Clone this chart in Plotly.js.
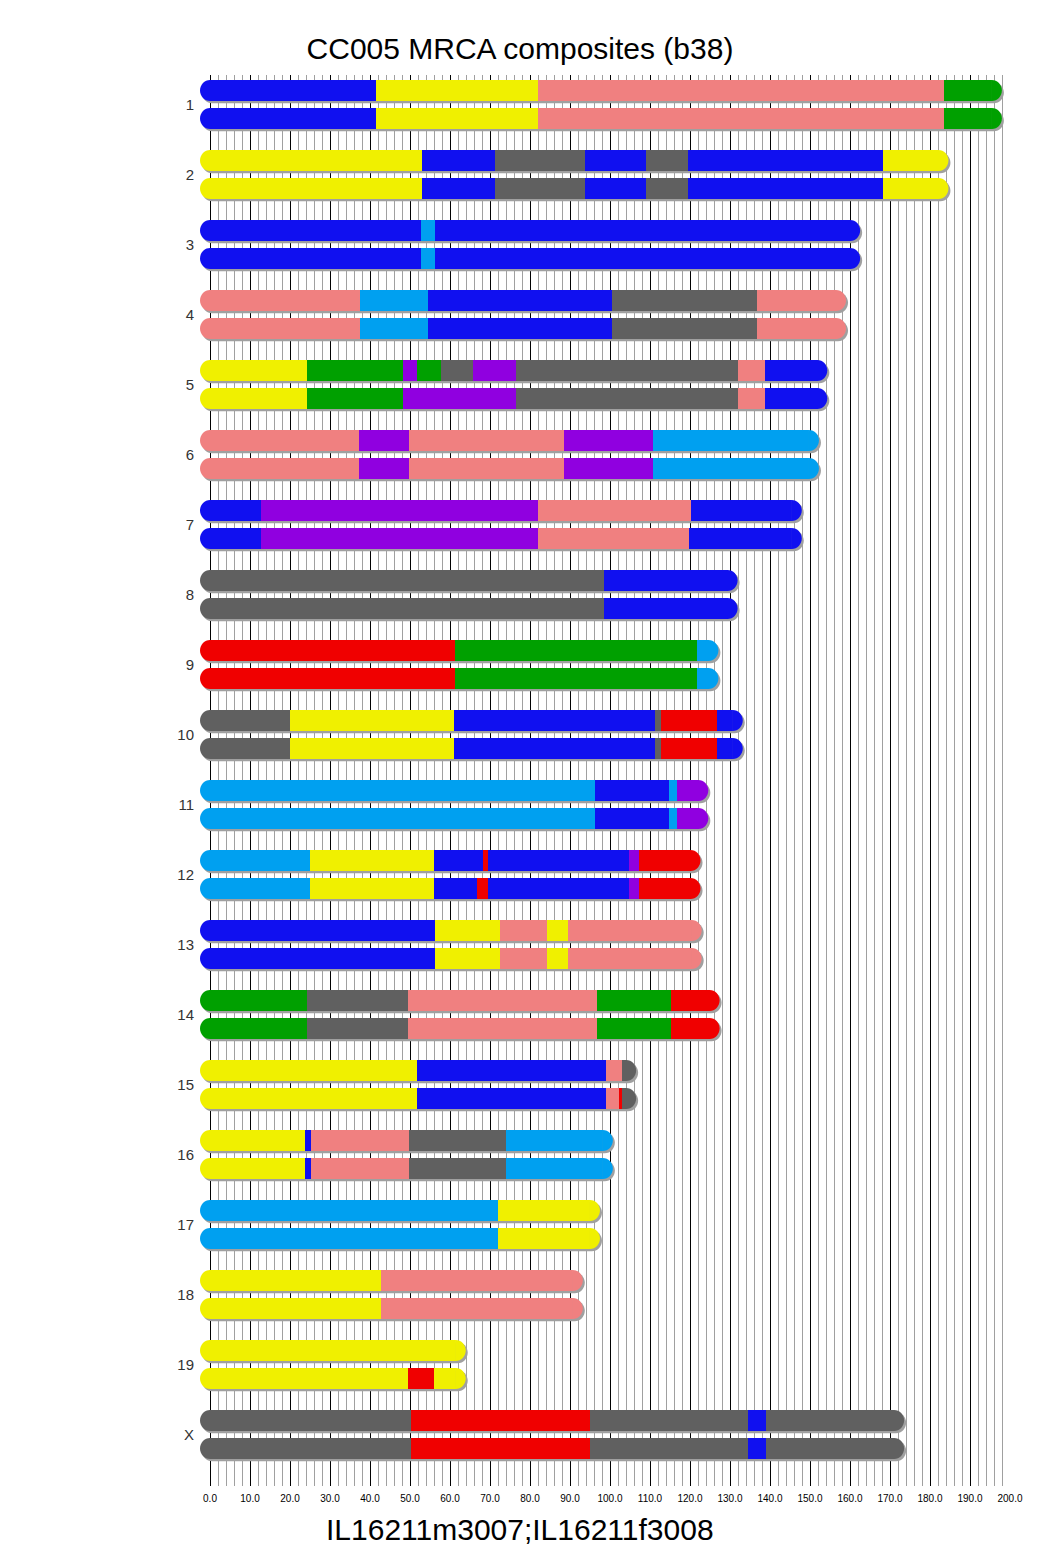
<!DOCTYPE html>
<html>
<head>
<meta charset="utf-8">
<script src="https://cdn.plot.ly/plotly-3.0.1.min.js"></script>
<style>
  html, body { margin: 0; padding: 0; background: #ffffff; }
  #chart { width: 1040px; height: 1560px; }
</style>
</head>
<body>
<div id="chart"></div>
<script>
// Chromosomes (GRCm38 lengths, Mb)
const chromNames = ['1','2','3','4','5','6','7','8','9','10','11','12','13','14','15','16','17','18','19','X'];
const chromLengths = [195.47, 182.11, 160.04, 156.51, 151.83, 149.74, 145.44, 129.40, 124.60, 130.69,
                      122.08, 120.13, 120.42, 124.90, 104.04, 98.21, 94.99, 90.70, 61.43, 171.03];

// Founder codes: A=A/J, B=C57BL/6J, C=129S1/SvImJ, D=NOD/ShiLtJ,
//                E=NZO/HlLtJ, F=CAST/EiJ, G=PWK/PhJ, H=WSB/EiJ
const founderCodes = ['A','B','C','D','E','F','G','H'];

// Upper homolog (IL16211m3007): founder order and breakpoints (Mb)
const topHaps = ['DACF','ADBDBDA','DED','CEDBC','AFHFBHBCD','CHCHE','DHCD','BD','GFE','BADBGD',
                 'EDEH','EADGDHG','DACAC','FBCFG','ADCB','ADCBE','EA','AC','A','BGBDB'];
const topBreaks = [
  [41.5, 82, 183.5],
  [53, 71.25, 93.75, 109, 119.5, 168.25],
  [52.75, 56.25],
  [37.5, 54.5, 100.5, 136.75],
  [24.25, 48.25, 51.75, 57.75, 65.75, 76.5, 132, 138.75],
  [37.25, 49.75, 88.5, 110.75],
  [12.75, 82, 120.25],
  [98.5],
  [61.25, 121.75],
  [20, 61, 111.25, 112.75, 126.75],
  [96.25, 114.75, 116.75],
  [25, 56, 68.25, 69.5, 104.75, 107.25],
  [56.25, 72.5, 84.25, 89.5],
  [24.25, 49.5, 96.75, 115.25],
  [51.75, 99, 103],
  [23.75, 25.25, 49.75, 74],
  [72],
  [42.75],
  [],
  [50.25, 95, 134.5, 139]
];

// Lower homolog (IL16211f3008)
const bottomHaps = ['DACF','ADBDBDA','DED','CEDBC','AFHBCD','CHCHE','DHCD','BD','GFE','BADBGD',
                    'EDEH','EADGDHG','DACAC','FBCFG','ADCGB','ADCBE','EA','AC','AGA','BGBDB'];
const bottomBreaks = [
  [41.5, 82, 183.5],
  [53, 71.25, 93.75, 109, 119.5, 168.25],
  [52.75, 56.25],
  [37.5, 54.5, 100.5, 136.75],
  [24.25, 48.25, 76.5, 132, 138.75],
  [37.25, 49.75, 88.5, 110.75],
  [12.75, 82, 119.75],
  [98.5],
  [61.25, 121.75],
  [20, 61, 111.25, 112.75, 126.75],
  [96.25, 114.75, 116.75],
  [25, 56, 66.75, 69.5, 104.75, 107.25],
  [56.25, 72.5, 84.25, 89.5],
  [24.25, 49.5, 96.75, 115.25],
  [51.75, 99, 102.25, 103],
  [23.75, 25.25, 49.75, 74],
  [72],
  [42.75],
  [49.5, 56],
  [50.25, 95, 134.5, 139]
];

const xTickValues = [0, 10, 20, 30, 40, 50, 60, 70, 80, 90, 100, 110, 120, 130, 140, 150, 160, 170, 180, 190, 200];

// ---- styling ----
const founderColors = {
  A: '#F0F000', B: '#606060', C: '#F08080', D: '#1010F0',
  E: '#00A0F0', F: '#00A000', G: '#F00000', H: '#9000E0'
};
const FONT = 'Liberation Sans, Arial, sans-serif';
const PAIR_OFFSET = 0.2;   // half distance between the two homologs of a chromosome (row units)
const BAR_WIDTH = 0.3;     // bar thickness (row units)
const CAP_RX = 2.5;        // rounded end radius along x (Mb)
const CAP_RY = BAR_WIDTH / 2;
const SHADOW_DX = 0.5;     // drop shadow offset (Mb)
const SHADOW_DY = 2.2 / 70;  // drop shadow offset (row units)
const SHADOW_COLOR = '#a0a0a0';
const K = 0.5523;

// one bar trace per founder, filled from the homolog segment lists
const segs = {};
founderCodes.forEach(f => { segs[f] = { y: [], base: [], x: [] }; });

const shapes = [];

function stadiumPath(a, b, c) {
  const t = c - CAP_RY, u = c + CAP_RY;
  return `M ${a},${t} L ${b},${t} ` +
    `C ${b + K * CAP_RX},${t} ${b + CAP_RX},${c - K * CAP_RY} ${b + CAP_RX},${c} ` +
    `C ${b + CAP_RX},${c + K * CAP_RY} ${b + K * CAP_RX},${u} ${b},${u} ` +
    `L ${a},${u} ` +
    `C ${a - K * CAP_RX},${u} ${a - CAP_RX},${c + K * CAP_RY} ${a - CAP_RX},${c} ` +
    `C ${a - CAP_RX},${c - K * CAP_RY} ${a - K * CAP_RX},${t} ${a},${t} Z`;
}
function rightCapPath(b, c) {
  const t = c - CAP_RY, u = c + CAP_RY, s = b - 0.15;
  return `M ${s},${t} L ${b},${t} ` +
    `C ${b + K * CAP_RX},${t} ${b + CAP_RX},${c - K * CAP_RY} ${b + CAP_RX},${c} ` +
    `C ${b + CAP_RX},${c + K * CAP_RY} ${b + K * CAP_RX},${u} ${b},${u} L ${s},${u} Z`;
}
function leftCapPath(a, c) {
  const t = c - CAP_RY, u = c + CAP_RY, s = a + 0.15;
  return `M ${s},${u} L ${a},${u} ` +
    `C ${a - K * CAP_RX},${u} ${a - CAP_RX},${c + K * CAP_RY} ${a - CAP_RX},${c} ` +
    `C ${a - CAP_RX},${c - K * CAP_RY} ${a - K * CAP_RX},${t} ${a},${t} L ${s},${t} Z`;
}

function addHomolog(haps, breaks, len, yc) {
  const edges = [0].concat(breaks, [len]);
  for (let i = 0; i < haps.length; i++) {
    const f = haps[i];
    segs[f].y.push(yc);
    segs[f].base.push(edges[i]);
    segs[f].x.push(edges[i + 1] - edges[i]);
  }
  shapes.push({
    type: 'path', xref: 'x', yref: 'y', layer: 'between',
    path: stadiumPath(SHADOW_DX, len + SHADOW_DX, yc + SHADOW_DY),
    fillcolor: SHADOW_COLOR, line: { width: 0 }
  });
  shapes.push({
    type: 'path', xref: 'x', yref: 'y', layer: 'above',
    path: leftCapPath(0, yc),
    fillcolor: founderColors[haps[0]], line: { width: 0 }
  });
  shapes.push({
    type: 'path', xref: 'x', yref: 'y', layer: 'above',
    path: rightCapPath(len, yc),
    fillcolor: founderColors[haps[haps.length - 1]], line: { width: 0 }
  });
}

chromNames.forEach((name, i) => {
  addHomolog(topHaps[i], topBreaks[i], chromLengths[i], i - PAIR_OFFSET);
  addHomolog(bottomHaps[i], bottomBreaks[i], chromLengths[i], i + PAIR_OFFSET);
});

const traces = founderCodes.map(f => ({
  type: 'bar',
  orientation: 'h',
  name: f,
  y: segs[f].y,
  base: segs[f].base,
  x: segs[f].x,
  width: BAR_WIDTH,
  marker: { color: founderColors[f], line: { width: 0 } },
  hoverinfo: 'skip'
}));

const minorVals = [];
for (let v = 2; v < 200; v += 2) { if (v % 10 !== 0) minorVals.push(v); }

const MARGIN_L = 199, PLOT_W = 812;

const layout = {
  width: 1040,
  height: 1560,
  paper_bgcolor: '#ffffff',
  plot_bgcolor: '#ffffff',
  showlegend: false,
  barmode: 'overlay',
  margin: { l: MARGIN_L, r: 1040 - MARGIN_L - PLOT_W, t: 75, b: 74, pad: 0 },
  title: {
    text: 'CC005 MRCA composites (b38)',
    font: { family: FONT, size: 30, color: '#000000' },
    x: 0.5, xref: 'container',
    y: 1 - 48 / 1560, yref: 'container', yanchor: 'middle'
  },
  xaxis: {
    range: [-2.75, 200.25],
    tickmode: 'array',
    tickvals: xTickValues,
    ticktext: xTickValues.map(v => v.toFixed(1)),
    showgrid: true, gridcolor: '#000000', gridwidth: 1,
    zeroline: false, showline: false,
    ticks: '',
    ticklabelstandoff: 5,
    tickfont: { family: FONT, size: 10, color: '#000000' },
    minor: { tickmode: 'array', tickvals: minorVals, showgrid: true, gridcolor: '#a0a0a0', gridwidth: 1, ticks: '' },
    fixedrange: true
  },
  yaxis: {
    range: [19 + 0.7357, -0.4214],
    tickmode: 'array',
    tickvals: chromNames.map((n, i) => i),
    ticktext: chromNames,
    showgrid: false, zeroline: false, showline: false,
    ticks: '',
    ticklabelstandoff: 4,
    tickfont: { family: FONT, size: 15, color: '#333333' },
    fixedrange: true
  },
  annotations: [{
    // strain pair name, centred on the page below the axis
    text: 'IL16211m3007;IL16211f3008',
    xref: 'paper', yref: 'paper',
    x: (520 - MARGIN_L) / PLOT_W, y: -(1529 - 1486) / 1411,
    xanchor: 'center', yanchor: 'middle',
    showarrow: false,
    font: { family: FONT, size: 30, color: '#000000' }
  }],
  shapes: shapes
};

Plotly.newPlot('chart', traces, layout, { displayModeBar: false, staticPlot: true });
</script>
</body>
</html>
